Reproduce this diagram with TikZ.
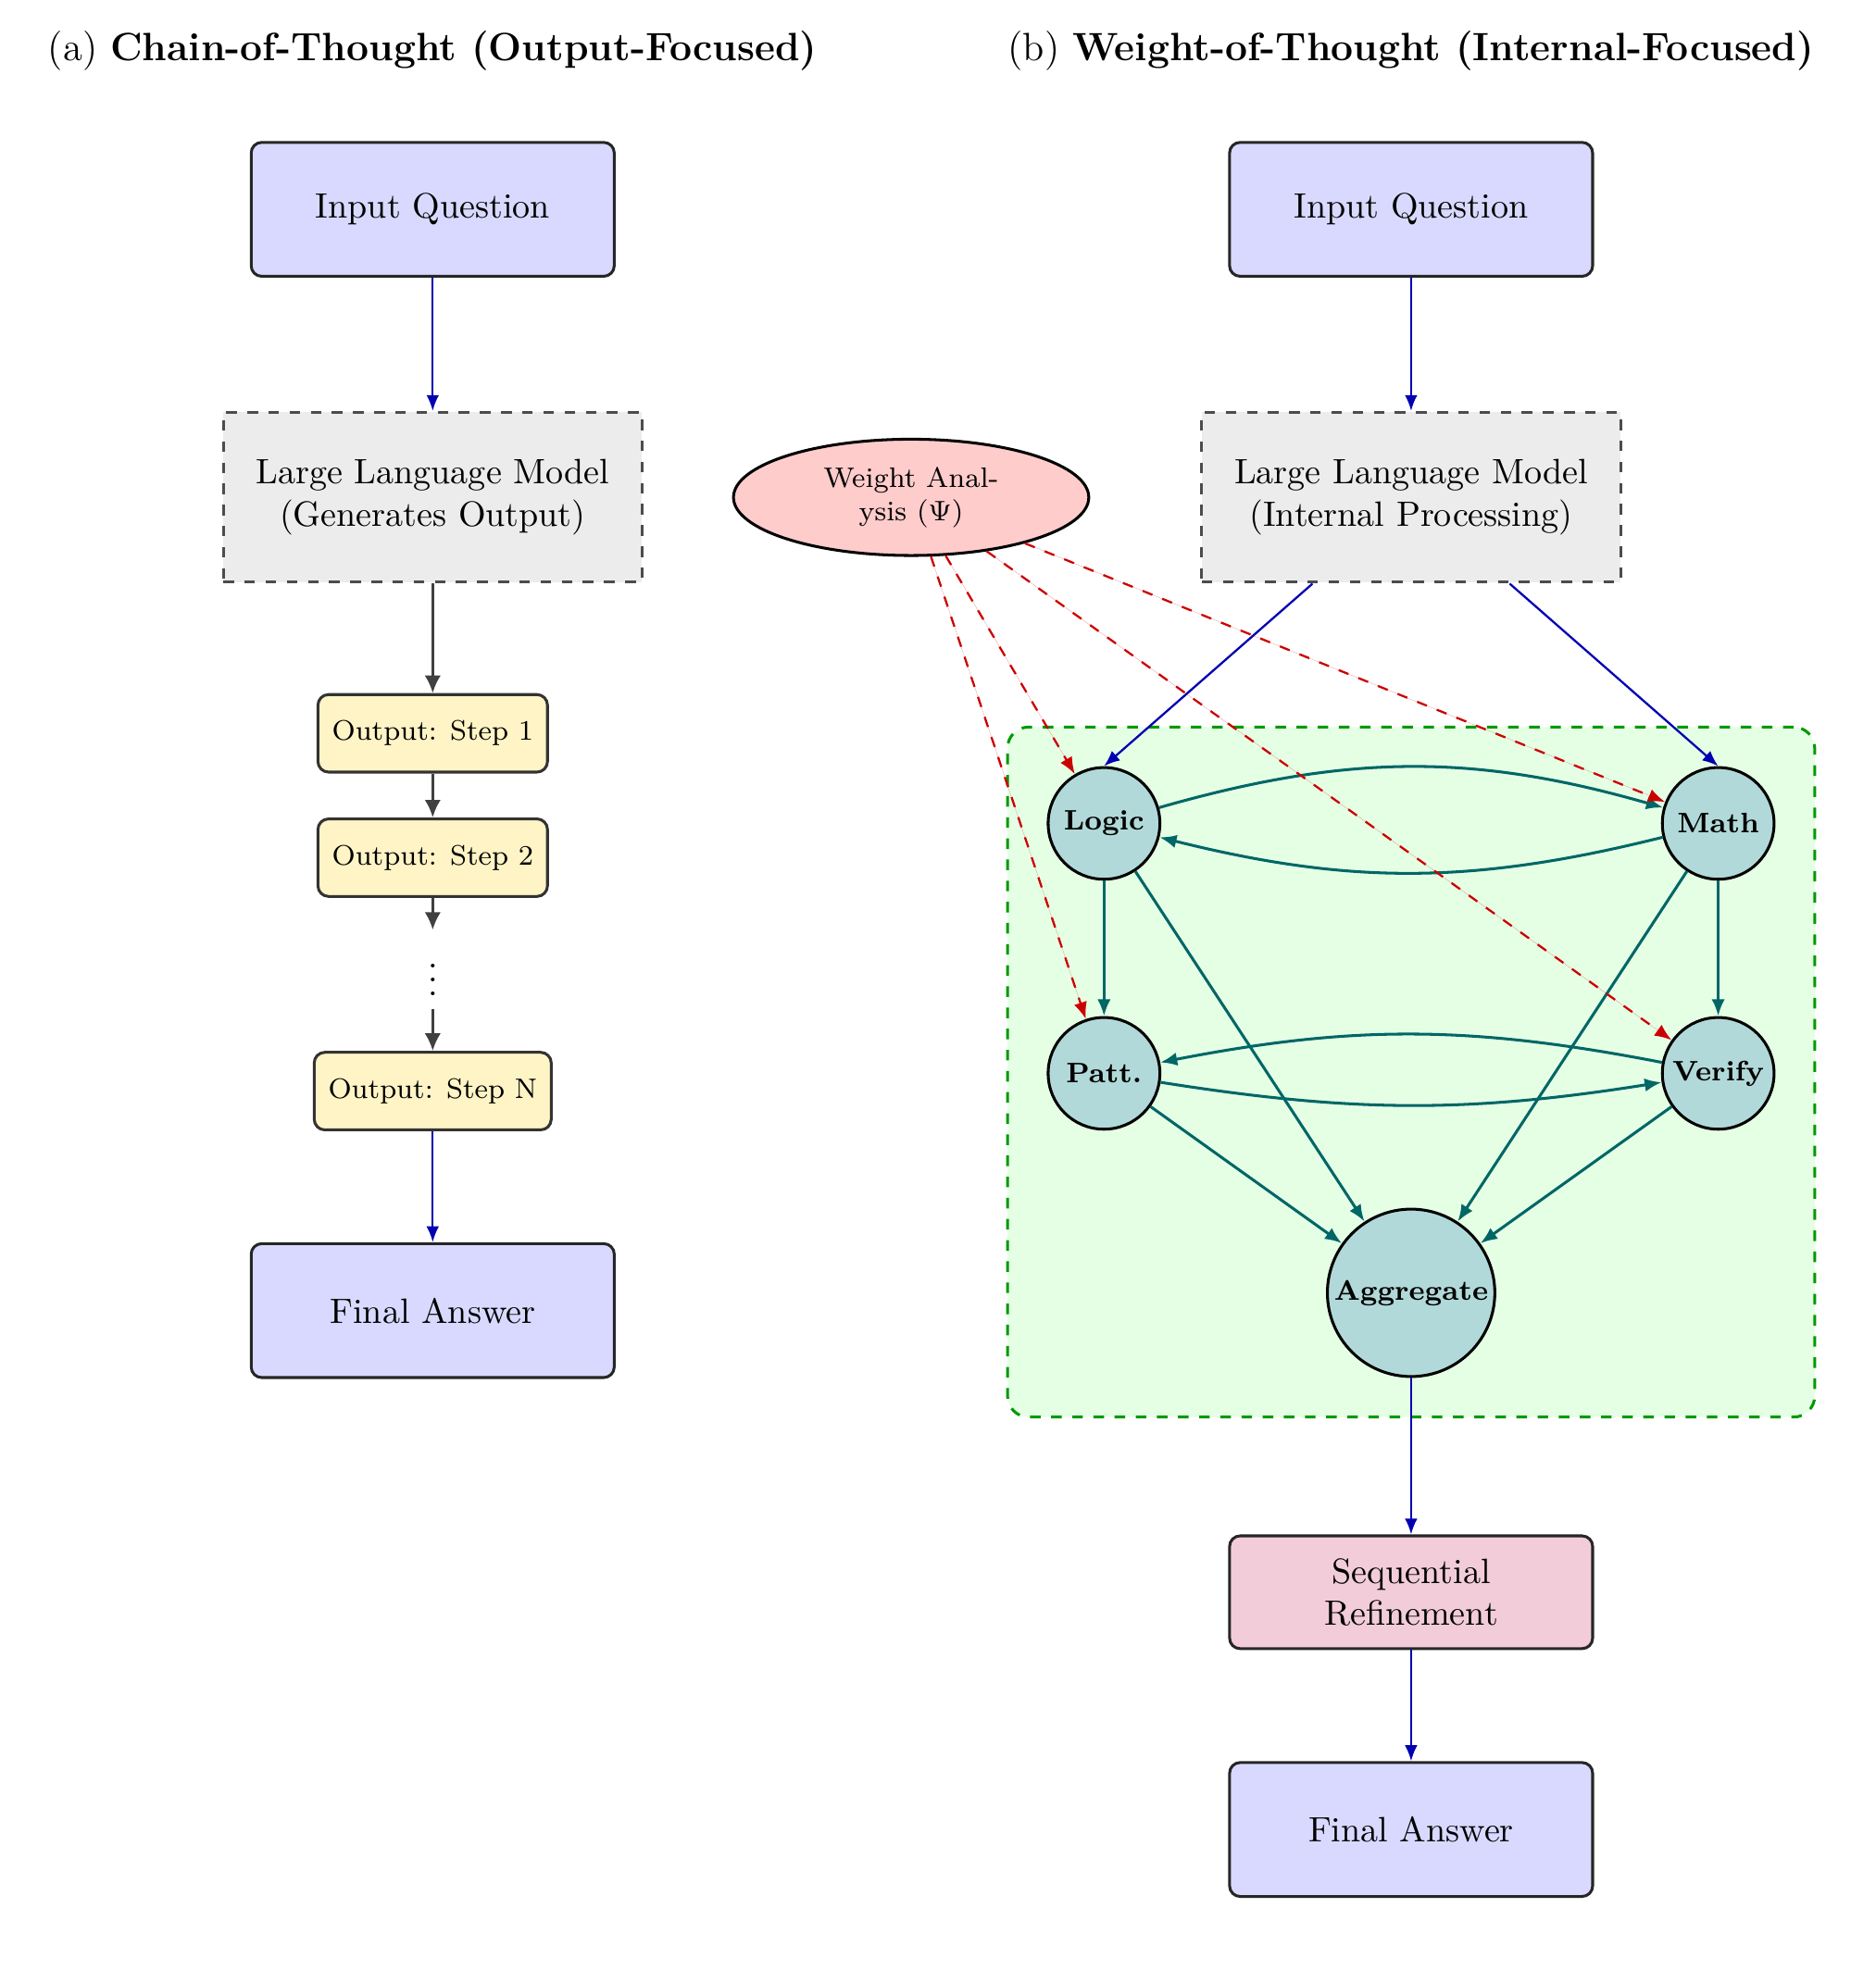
\documentclass[tikz,border=0pt]{standalone}
\usetikzlibrary{arrows.meta,shapes.geometric}
\definecolor{stepyellow}{HTML}{FFF4C6}
\begin{document}
\begin{tikzpicture}[x=0.36pt,y=0.36pt,
  bigbox/.style={draw=black!85,thick,rounded corners=3pt,fill=blue!15,minimum width=103pt,minimum height=38pt,align=center,inner sep=2pt},
  llmbox/.style={draw=black!70,thick,dashed,fill=gray!15,minimum width=118.8pt,minimum height=48.2pt,align=center,inner sep=2pt},
  stepbox/.style={draw=black!80,thick,rounded corners=3pt,fill=stepyellow,minimum height=22pt,inner xsep=4pt,font=\footnotesize},
  refbox/.style={draw=black!85,thick,rounded corners=3pt,fill=purple!20,minimum width=103pt,minimum height=32pt,align=center,inner sep=2pt},
  wellipse/.style={ellipse,draw=black,thick,fill=red!20,minimum width=100.8pt,minimum height=33pt,align=center,font=\footnotesize,inner sep=0pt},
  expert/.style={circle,draw=black,thick,fill=teal!30,minimum size=31.7pt,inner sep=0pt,font=\footnotesize\bfseries},
  aggnode/.style={circle,draw=black,thick,fill=teal!30,minimum size=47.5pt,inner sep=0pt,font=\footnotesize\bfseries},
  cluster/.style={draw=green!60!black,thick,dashed,fill=green!10,rounded corners=6pt,minimum width=229pt,minimum height=195.8pt},
  bluearrow/.style={-{Latex[length=4.5pt,width=3.6pt]},semithick,draw=blue!70!black,fill=blue!70!black},
  grayarrow/.style={-{Latex[length=5pt,width=4.6pt]},thick,draw=black!75},
  tealarrow/.style={-{Latex[length=4.8pt,width=3.8pt]},thick,draw=teal!80!black},
  redarrow/.style={-{Latex[length=4.8pt,width=3.8pt]},semithick,dashed,draw=red!80!black,fill=red!80!black},
  titletext/.style={font=\fontsize{11.2}{13}\selectfont}
]
\useasboundingbox (0,0) rectangle (1478,-1563);

% titles
\node[titletext] (ta) at (341,-40) {(a) \textbf{Chain-of-Thought (Output-Focused)}};
\node[titletext] (tb) at (1112,-40) {(b) \textbf{Weight-of-Thought (Internal-Focused)}};

% ---- left column ----
\node[bigbox] (in1) at (341,-165) {Input Question};
\node[llmbox] (llm1) at (341,-392) {Large Language Model\\(Generates Output)};
\node[stepbox] (s1) at (341,-578) {Output: Step 1};
\node[stepbox] (s2) at (341,-676) {Output: Step 2};
\node[inner sep=0pt,minimum height=22pt] (dots) at (341,-764) {$\vdots$};
\node[stepbox] (sN) at (341,-860) {Output: Step N};
\node[bigbox] (fin1) at (341,-1033) {Final Answer};

\draw[bluearrow] (in1) -- (llm1);
\draw[grayarrow] (llm1) -- (s1);
\draw[grayarrow] (s1) -- (s2);
\draw[grayarrow] (s2) -- (dots);
\draw[grayarrow] (dots) -- (sN);
\draw[bluearrow] (sN) -- (fin1);

% ---- right column ----
\node[cluster] (clu) at (1112,-845) {};
\node[bigbox] (in2) at (1112,-165) {Input Question};
\node[llmbox] (llm2) at (1112,-392) {Large Language Model\\(Internal Processing)};
\node[wellipse] (wa) at (718,-392) {Weight Anal-\\ysis ($\Psi$)};

\node[expert] (logic) at (870,-649) {Logic};
\node[expert] (math) at (1354,-649) {Math};
\node[expert] (patt) at (870,-846) {Patt.};
\node[expert] (verify) at (1354,-846) {Verify};
\node[aggnode] (agg) at (1112,-1019) {Aggregate};

\node[refbox] (seq) at (1112,-1255) {Sequential\\Refinement};
\node[bigbox] (fin2) at (1112,-1442) {Final Answer};

\draw[bluearrow] (in2) -- (llm2);
\draw[bluearrow] (llm2) -- (logic.north);
\draw[bluearrow] (llm2) -- (math.north);

\draw[tealarrow] (logic) to[bend left=16] (math);
\draw[tealarrow] (math) to[bend left=14] (logic);
\draw[tealarrow] (logic) -- (patt);
\draw[tealarrow] (math) -- (verify);
\draw[tealarrow] (verify) to[bend right=11] (patt);
\draw[tealarrow] (patt) to[bend right=9] (verify);
\draw[tealarrow] (logic) -- (agg);
\draw[tealarrow] (math) -- (agg);
\draw[tealarrow] (patt) -- (agg);
\draw[tealarrow] (verify) -- (agg);

\draw[redarrow] (wa) -- (logic);
\draw[redarrow] (wa) -- (patt);
\draw[redarrow] (wa) -- (math);
\draw[redarrow] (wa) -- (verify);

\draw[bluearrow] (agg) -- (seq);
\draw[bluearrow] (seq) -- (fin2);
\end{tikzpicture}
\end{document}
